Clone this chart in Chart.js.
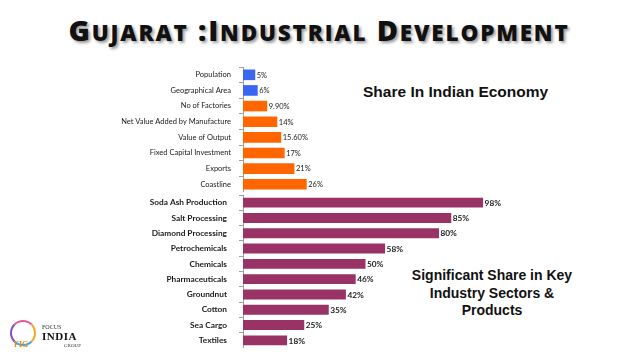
<!DOCTYPE html>
<html><head><meta charset="utf-8">
<script src="https://cdn.jsdelivr.net/npm/chart.js@4"></script>
<style>
html,body{margin:0;padding:0;background:#fff;width:638px;height:359px;overflow:hidden;position:relative;font-family:"Liberation Sans",Arial,sans-serif}
#title{position:absolute;left:0;top:12px;width:638px;text-align:center;font-family:"Open Sans",Lato,sans-serif;font-weight:800;color:#111;text-shadow:2px 2px 3px rgba(0,0,0,0.4);white-space:nowrap;line-height:36px;letter-spacing:1.8px}
#title .b{font-size:29px}
#title .s{font-size:22.5px}
.note{position:absolute;font-family:"Liberation Sans",Arial,sans-serif;font-weight:bold;color:#111;white-space:nowrap}
canvas{position:absolute;left:0}
#logo{position:absolute;left:8px;top:318px;width:100px;height:38px}
</style></head><body>
<div id="title"><span class="b">G</span><span class="s">UJARAT</span><span class="b"> :I</span><span class="s">NDUSTRIAL</span><span class="b"> D</span><span class="s">EVELOPMENT</span></div>
<div class="note" style="left:363px;top:83px;font-size:15.5px">Share In Indian Economy</div>
<div class="note" style="left:392px;top:267px;width:200px;text-align:center;line-height:17.5px;font-size:14px">Significant Share in Key<br>Industry Sectors &amp;<br>Products</div>
<canvas id="c1" width="638" height="125" style="top:67px"></canvas>
<canvas id="c2" width="638" height="153" style="top:195px"></canvas>
<div id="logo">
 <div style="position:absolute;left:2px;top:2px;width:22px;height:22px;border-radius:50%;border:2px solid #e05a9a;border-color:#e05a9a #f7a823 #38a8e0 #8a4bbf"></div>
 <div style="position:absolute;left:6px;top:22px;font:bold 8px 'Liberation Serif';color:#e08a1e">FIG</div>
 <div style="position:absolute;left:34px;top:6px;font:6px 'Liberation Serif';color:#333">FOCUS</div>
 <div style="position:absolute;left:34px;top:12px;font:bold 11px 'Liberation Serif';color:#111;letter-spacing:0.5px">INDIA</div>
 <div style="position:absolute;left:56px;top:25px;font:5px 'Liberation Serif';color:#333">GROUP</div>
</div>
<script>
const topCategories = ['Population','Geographical Area','No of Factories','Net Value Added by Manufacture','Value of Output','Fixed Capital Investment','Exports','Coastline'];
const topValues = [5, 6, 9.9, 14, 15.6, 17, 21, 26];
const topValueLabels = ['5%','6%','9.90%','14%','15.60%','17%','21%','26%'];
const topColors = ['#3a66f0','#3a66f0','#ff6600','#ff6600','#ff6600','#ff6600','#ff6600','#ff6600'];

const bottomCategories = ['Soda Ash Production','Salt Processing','Diamond Processing','Petrochemicals','Chemicals','Pharmaceuticals','Groundnut','Cotton','Sea Cargo','Textiles'];
const bottomValues = [98, 85, 80, 58, 50, 46, 42, 35, 25, 18];
const bottomValueLabels = ['98%','85%','80%','58%','50%','46%','42%','35%','25%','18%'];
const bottomColor = '#993366';

const valueLabelPlugin = {
  id: 'valueLabels',
  afterDatasetsDraw(chart, args, opts) {
    const ctx = chart.ctx;
    const meta = chart.getDatasetMeta(0);
    ctx.save();
    ctx.font = opts.font;
    ctx.fillStyle = '#222';
    ctx.textBaseline = 'middle';
    ctx.textAlign = 'left';
    meta.data.forEach((bar, i) => {
      ctx.fillText(opts.labels[i], bar.x + 1.5, bar.y + 0.5);
    });
    ctx.restore();
  }
};

function makeChart(id, cats, vals, colors, labels, tickFont, labelFont, barPct, pad) {
  return new Chart(document.getElementById(id), {
    type: 'bar',
    data: { labels: cats, datasets: [{ data: vals, backgroundColor: colors, borderWidth: 0, barPercentage: barPct, categoryPercentage: 1 }] },
    options: {
      indexAxis: 'y', responsive: false, maintainAspectRatio: false, animation: false, devicePixelRatio: 1,
      layout: { padding: { left: 0, right: 638 - 243 - 245, top: 0, bottom: 0 } },
      plugins: { legend: { display: false }, tooltip: { enabled: false }, valueLabels: { labels: labels, font: labelFont } },
      scales: {
        x: { display: false, min: 0, max: 100 },
        y: {
          afterFit(s) { s.width = 243; s.paddingTop = 0; s.paddingBottom = 0; },
          border: { display: true, color: '#a0a0a0', width: 1 },
          grid: { display: true, drawOnChartArea: false, drawTicks: true, tickLength: 4, color: '#a0a0a0', offset: true },
          ticks: { color: '#1a1a1a', font: tickFont, padding: pad, autoSkip: false }
        }
      }
    },
    plugins: [valueLabelPlugin]
  });
}

makeChart('c1', topCategories, topValues, topColors, topValueLabels,
  { family: 'Lato, "Open Sans", sans-serif', size: 7.5, weight: 'normal' }, '7.5px Lato, "Open Sans", sans-serif', 0.68, 8);
makeChart('c2', bottomCategories, bottomValues, bottomColor, bottomValueLabels,
  { family: 'Lato, "Open Sans", sans-serif', size: 8.3, weight: 'bold' }, 'bold 8.3px Lato, "Open Sans", sans-serif', 0.65, 12);
</script>
</body></html>
